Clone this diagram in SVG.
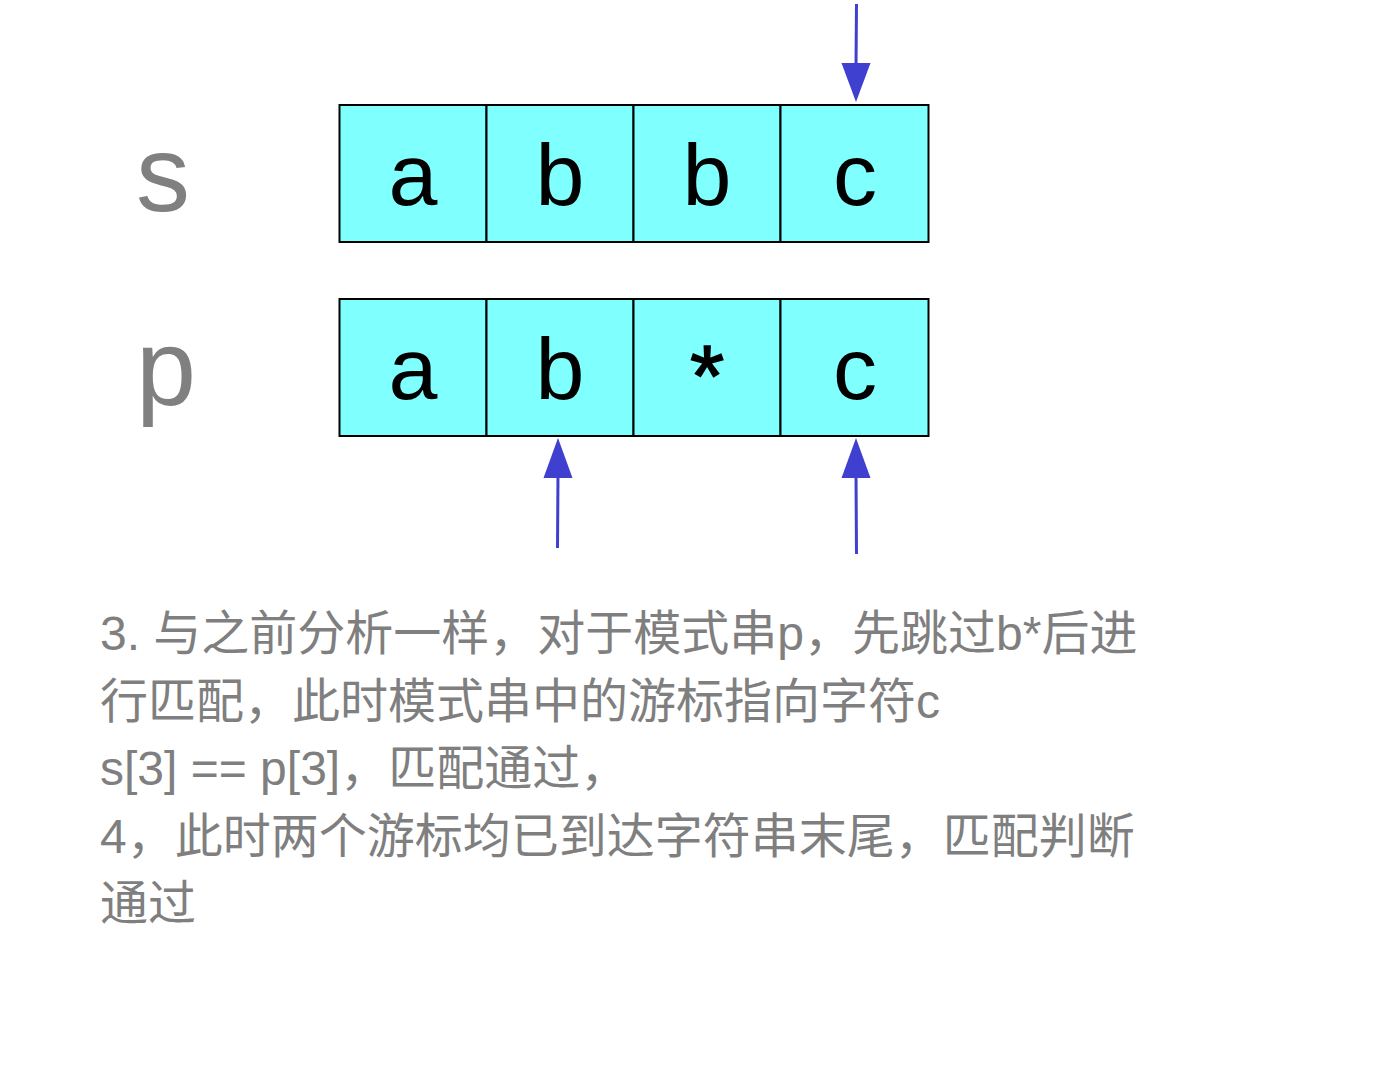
<svg xmlns="http://www.w3.org/2000/svg" width="1386" height="1086" viewBox="0 0 1386 1086">
<style>
.cell{fill:#80ffff;stroke:#000;stroke-width:2}
.ch{font-family:"Liberation Sans",Arial,sans-serif;font-size:88px;fill:#000;text-anchor:middle}
.lbl{font-family:"Liberation Sans",Arial,sans-serif;font-size:108px;fill:#808080}
.note{font-family:"Liberation Sans","Noto Sans CJK SC",sans-serif;font-size:48px;fill:#7f7f7f}
.arr{stroke:#3f3fd0;stroke-width:3;fill:none}
.head{fill:#3f3fd0}
</style>
<rect width="1386" height="1086" fill="#fff"/>
<g id="label-s"><text class="lbl" x="136" y="211">s</text></g>
<g id="label-p"><text class="lbl" x="136" y="405">p</text></g>
<g id="s-row">
<g id="s0"><rect class="cell" x="339.5" y="105" width="147" height="137"/><text class="ch" x="413" y="205">a</text></g>
<g id="s1"><rect class="cell" x="486.5" y="105" width="147" height="137"/><text class="ch" x="560" y="205">b</text></g>
<g id="s2"><rect class="cell" x="633.5" y="105" width="147" height="137"/><text class="ch" x="707" y="205">b</text></g>
<g id="s3"><rect class="cell" x="780.5" y="105" width="148" height="137"/><text class="ch" x="855" y="205">c</text></g>
</g>
<g id="p-row">
<g id="p0"><rect class="cell" x="339.5" y="299" width="147" height="137"/><text class="ch" x="413" y="399">a</text></g>
<g id="p1"><rect class="cell" x="486.5" y="299" width="147" height="137"/><text class="ch" x="560" y="399">b</text></g>
<g id="p2"><rect class="cell" x="633.5" y="299" width="147" height="137"/><text class="ch" x="707" y="406" stroke="#000" stroke-width="1.5">*</text></g>
<g id="p3"><rect class="cell" x="780.5" y="299" width="148" height="137"/><text class="ch" x="855" y="399">c</text></g>
</g>
<g id="connectors">
<line class="arr" x1="856.5" y1="4" x2="856" y2="66"/>
<polygon class="head" points="841.5,63 870.5,63 856,102"/>
<line class="arr" x1="557.5" y1="548" x2="558" y2="475"/>
<polygon class="head" points="543.5,478 572.5,478 558,438"/>
<line class="arr" x1="856.5" y1="554" x2="856" y2="475"/>
<polygon class="head" points="841.5,478 870.5,478 856,438"/>
</g>
<g id="note">
<text class="note" x="100" y="650">3. 与之前分析一样，对于模式串p，先跳过b*后进</text>
<text class="note" x="100" y="718">行匹配，此时模式串中的游标指向字符c</text>
<text class="note" x="100" y="785">s[3] == p[3]，匹配通过，</text>
<text class="note" x="100" y="853">4，此时两个游标均已到达字符串末尾，匹配判断</text>
<text class="note" x="100" y="920">通过</text>
</g>
</svg>
